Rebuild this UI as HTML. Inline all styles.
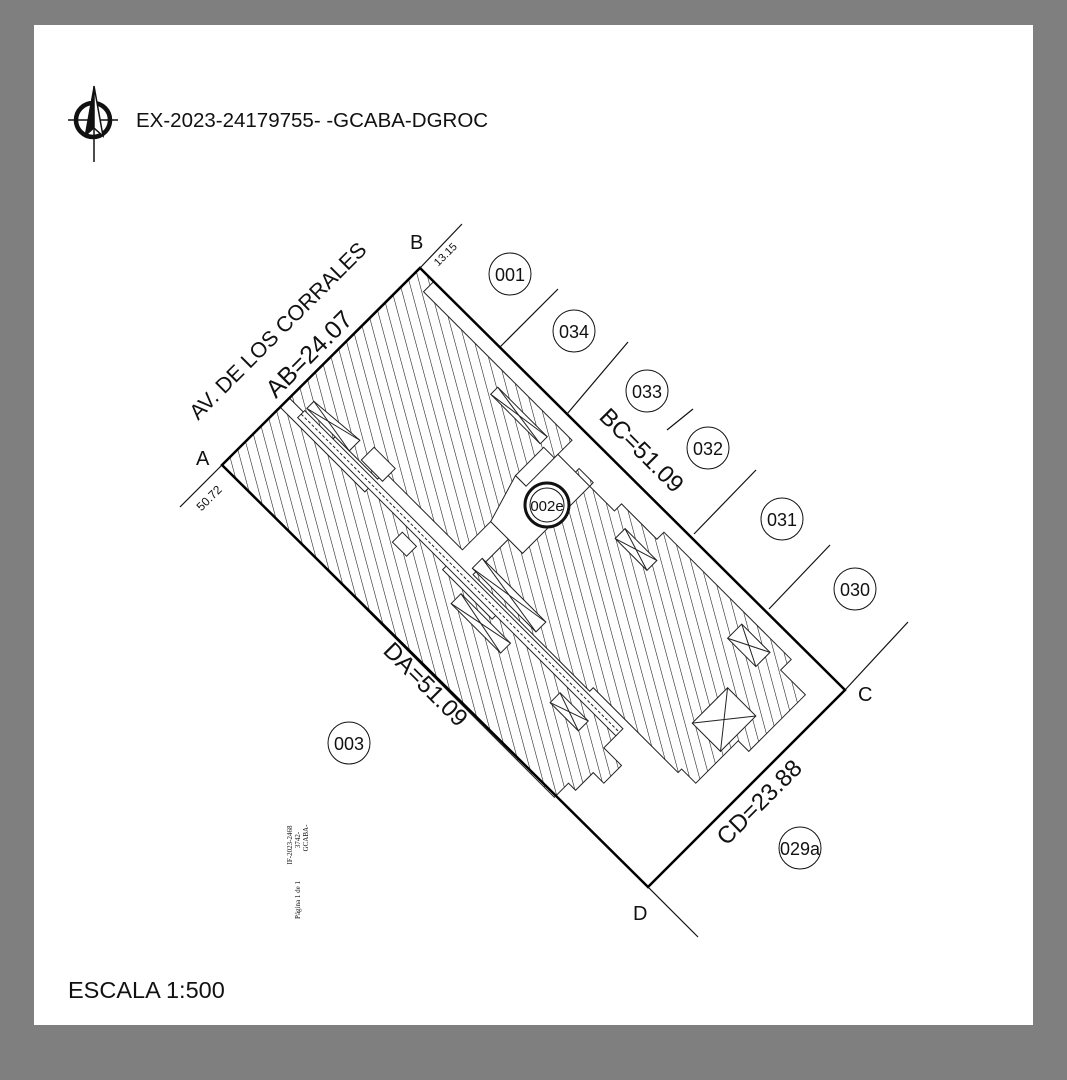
<!DOCTYPE html>
<html><head><meta charset="utf-8"><style>
html,body{margin:0;padding:0;background:#7f7f7f;width:1067px;height:1080px;overflow:hidden}
svg{position:absolute;left:0;top:0}
text{font-family:"Liberation Sans",sans-serif;fill:#111}
</style></head><body>
<svg width="1067" height="1080" viewBox="0 0 1067 1080">
<defs>
<pattern id="h" patternUnits="userSpaceOnUse" width="9.5" height="10" patternTransform="rotate(-60)">
<line x1="0" y1="0" x2="0" y2="10" stroke="#111" stroke-width="1.1"/>
</pattern>
</defs>
<rect x="0" y="0" width="1067" height="1080" fill="#7f7f7f"/>
<rect x="34" y="25" width="999" height="1000" fill="#fff"/>

<g stroke="#111" fill="none">
<circle cx="93" cy="120" r="17" stroke-width="4.5"/>
<line x1="68" y1="120" x2="118" y2="120" stroke-width="1.5"/>
<line x1="94" y1="100" x2="94" y2="162" stroke-width="1.5"/>
<polygon points="94,86 85,136 94,128" fill="#111"/>
<polygon points="94,86 103,136 94,128" fill="#fff" stroke-width="1.5"/>
</g>
<text x="136" y="127" font-size="20.5">EX-2023-24179755- -GCABA-DGROC</text>

<g transform="translate(222,465) rotate(45)" stroke="#222" stroke-width="1">
<polygon points="0,-95 0,-280 20,-280 20,-265 230,-265 230,-240 215,-240 215,-200 240,-200 240,-150 230,-150 230,-110 120,-110 120,-100 60,-100 60,-95" fill="url(#h)"/>
<polygon points="0,0 0,-82 120,-82 120,-88 230,-88 230,-82 300,-82 300,-88 470,-88 470,-70 495,-70 495,-45 480,-45 480,-20 470,-20 470,0" fill="url(#h)"/>
<polygon points="255,-100 255,-250 275,-250 275,-245 310,-245 310,-255 360,-255 360,-265 540,-265 540,-250 575,-250 575,-170 560,-170 560,-110 540,-110 540,-105 420,-105 420,-100" fill="url(#h)"/>
<polygon points="230,-150 275,-150 275,-245 230,-245 230,-200 215,-200" fill="#fff"/>
<rect x="20" y="-97" width="450" height="10" fill="#fff"/>
<line x1="20" y1="-92" x2="470" y2="-92" stroke-dasharray="3,2"/>
<g fill="#fff">
<polygon points="20,-110 80,-115 80,-100 20,-100"/>
<line x1="20" y1="-110" x2="80" y2="-100"/><line x1="20" y1="-100" x2="80" y2="-115"/>
<rect x="95" y="-120" width="30" height="18"/>
<rect x="140" y="-250" width="70" height="10"/>
<line x1="140" y1="-250" x2="210" y2="-240"/><line x1="140" y1="-240" x2="210" y2="-250"/>
<rect x="250" y="-118" width="90" height="14"/>
<line x1="250" y1="-118" x2="340" y2="-104"/><line x1="250" y1="-104" x2="340" y2="-118"/>
<rect x="330" y="-240" width="45" height="14"/>
<line x1="330" y1="-240" x2="375" y2="-226"/><line x1="330" y1="-226" x2="375" y2="-240"/>
<rect x="260" y="-78" width="70" height="14"/>
<line x1="260" y1="-78" x2="330" y2="-64"/><line x1="260" y1="-64" x2="330" y2="-78"/>
<rect x="400" y="-78" width="40" height="14"/>
<line x1="400" y1="-78" x2="440" y2="-64"/><line x1="400" y1="-64" x2="440" y2="-78"/>
<rect x="480" y="-255" width="40" height="20"/>
<line x1="480" y1="-255" x2="520" y2="-235"/><line x1="480" y1="-235" x2="520" y2="-255"/>
<rect x="515" y="-200" width="40" height="50"/>
<line x1="515" y1="-200" x2="555" y2="-150"/><line x1="515" y1="-150" x2="555" y2="-200"/>
<rect x="175" y="-80" width="20" height="14"/>
</g>
</g>

<polygon points="222,465 420,268 845,690 648,887" fill="none" stroke="#000" stroke-width="2.5"/>
<g stroke="#111" stroke-width="1.2">
<line x1="420" y1="268" x2="462" y2="224"/>
<line x1="222" y1="465" x2="180" y2="507"/>
<line x1="845" y1="690" x2="908" y2="622"/>
<line x1="648" y1="887" x2="698" y2="937"/>
<line x1="500" y1="347" x2="558" y2="289"/>
<line x1="567" y1="414" x2="628" y2="342"/>
<line x1="667" y1="430" x2="693" y2="409"/>
<line x1="694" y1="534" x2="756" y2="470"/>
<line x1="769" y1="609" x2="830" y2="545"/>
</g>

<g fill="none" stroke="#111" stroke-width="1">
<circle cx="510" cy="274" r="21"/><circle cx="574" cy="331" r="21"/>
<circle cx="647" cy="391" r="21"/><circle cx="708" cy="448" r="21"/>
<circle cx="782" cy="519" r="21"/><circle cx="855" cy="589" r="21"/>
<circle cx="349" cy="743" r="21"/><circle cx="800" cy="848" r="21"/>
<circle cx="547" cy="505" r="22" fill="#fff" stroke-width="3"/>
<circle cx="547" cy="505" r="17"/>
</g>
<g font-size="18" text-anchor="middle">
<text x="510" y="281">001</text><text x="574" y="338">034</text>
<text x="647" y="398">033</text><text x="708" y="455">032</text>
<text x="782" y="526">031</text><text x="855" y="596">030</text>
<text x="349" y="750">003</text><text x="800" y="855">029a</text>
<text x="547" y="511" font-size="15">002e</text>
</g>

<g font-size="20">
<text x="196" y="465">A</text><text x="410" y="249">B</text>
<text x="858" y="701">C</text><text x="633" y="920">D</text>
</g>
<g text-anchor="middle">
<text transform="translate(283,336) rotate(-45)" font-size="21.5">AV. DE LOS CORRALES</text>
<text transform="translate(315,360) rotate(-45)" font-size="25">AB=24.07</text>
<text transform="translate(636,456) rotate(45)" font-size="24">BC=51.09</text>
<text transform="translate(420,690) rotate(45)" font-size="24">DA=51.09</text>
<text transform="translate(765,808) rotate(-45)" font-size="24">CD=23.88</text>
<text transform="translate(448,257) rotate(-45)" font-size="11">13.15</text>
<text transform="translate(212,501) rotate(-45)" font-size="12">50.72</text>
</g>
<g font-size="7">
<text transform="translate(292,845) rotate(-90)" text-anchor="middle" style="font-family:'Liberation Serif',serif">IF-2023-2468</text>
<text transform="translate(300,840) rotate(-90)" text-anchor="middle" style="font-family:'Liberation Serif',serif">3742-</text>
<text transform="translate(308,838) rotate(-90)" text-anchor="middle" style="font-family:'Liberation Serif',serif">GCABA-</text>
<text transform="translate(300,900) rotate(-90)" text-anchor="middle" style="font-family:'Liberation Serif',serif">Página 1 de 1</text>
</g>
<text x="68" y="998" font-size="23.5">ESCALA 1:500</text>
</svg>
</body></html>
